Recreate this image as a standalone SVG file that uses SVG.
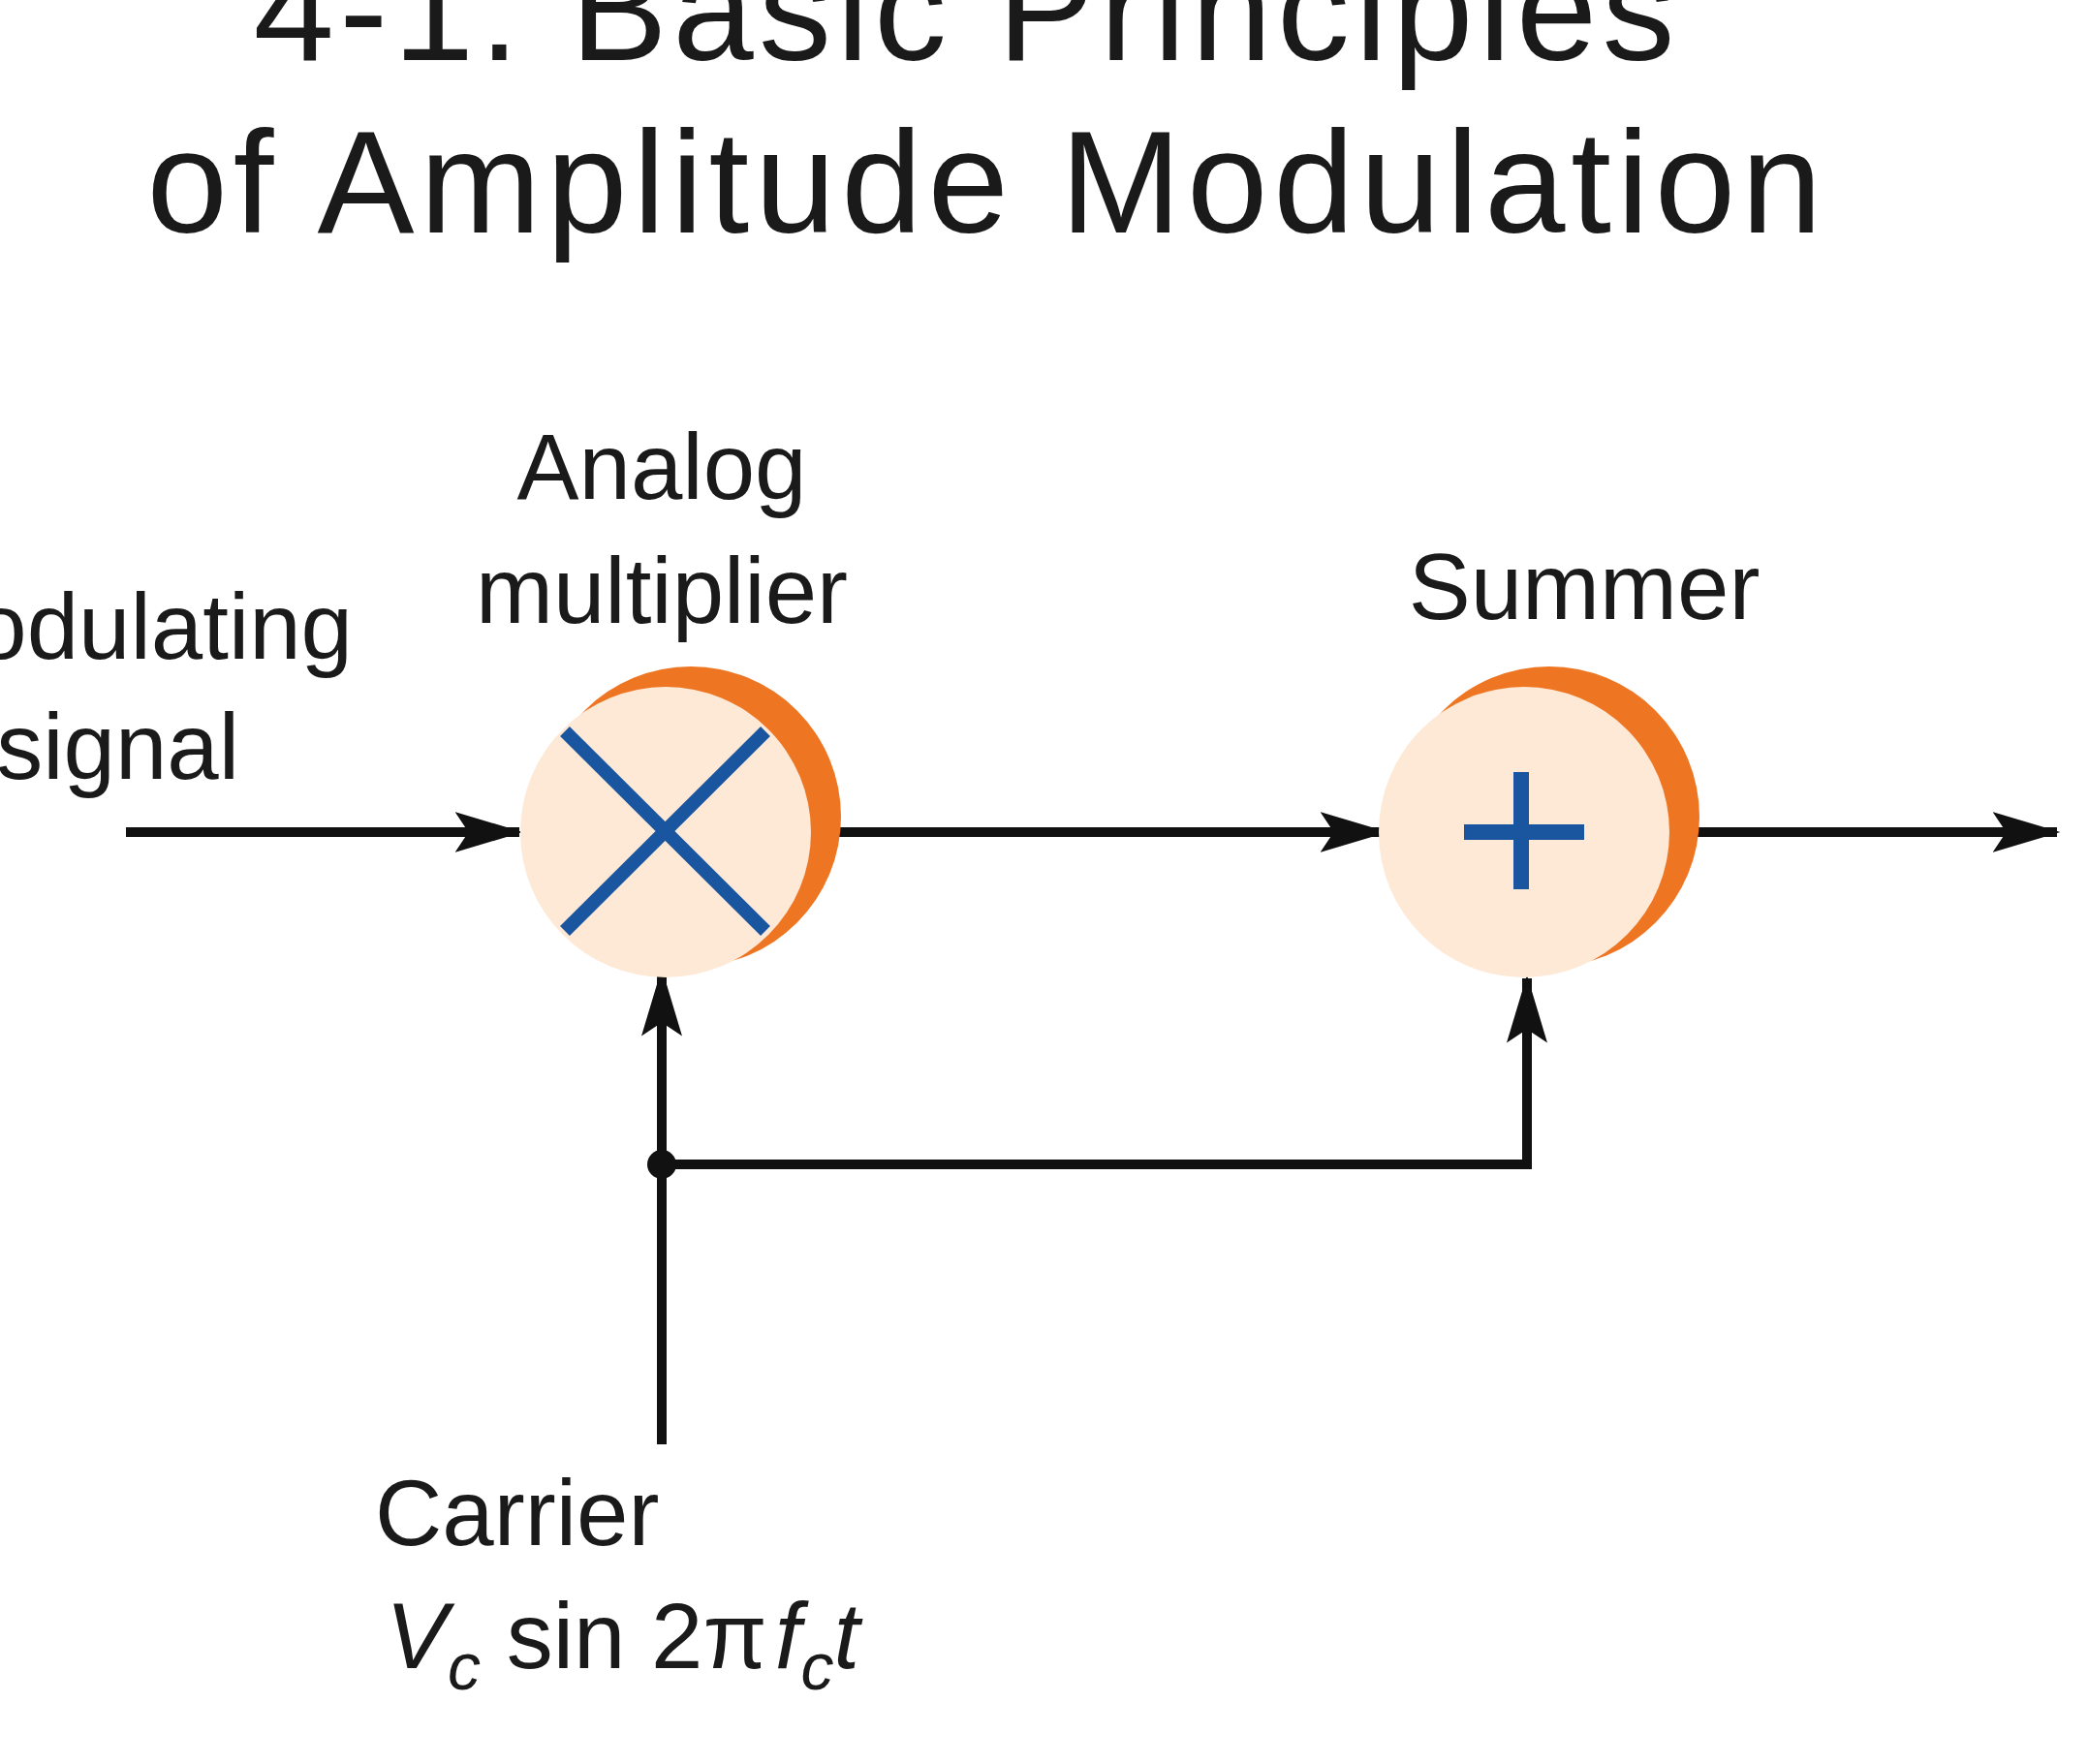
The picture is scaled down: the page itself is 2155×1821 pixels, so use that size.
<svg xmlns="http://www.w3.org/2000/svg" width="2155" height="1821" viewBox="0 0 2155 1821">
<style>
text{font-family:"Liberation Sans",Arial,sans-serif;fill:#1a1a1a}
.lbl{font-size:96px}
.ttl{font-size:150px}
.ln{stroke:#111;stroke-width:10;fill:none}
.beige{fill:#fde9d6}
.orng{fill:#ee7623}
.blue{stroke:#1a55a0;stroke-width:14;fill:none}
</style>
<defs>
<marker id="ah" viewBox="0 0 20 12" refX="19" refY="6" markerWidth="7" markerHeight="4.2" orient="auto" markerUnits="strokeWidth">
<path d="M0,0 L20,6 L0,12 L4,6 Z" fill="#111"/>
</marker>
</defs>
<rect width="2155" height="1821" fill="#fff"/>
<text class="ttl" x="995" y="62" text-anchor="middle" textLength="1467">4-1. Basic Principles</text>
<text class="ttl" x="1016" y="240" text-anchor="middle" textLength="1729">of Amplitude Modulation</text>
<g id="connectors">
<line class="ln" x1="130" y1="859" x2="536" y2="859" marker-end="url(#ah)"/>
<line class="ln" x1="852" y1="859" x2="1429" y2="859" marker-end="url(#ah)"/>
<line class="ln" x1="1742" y1="859" x2="2123" y2="859" marker-end="url(#ah)"/>
<line class="ln" x1="683" y1="1491" x2="683" y2="1003" marker-end="url(#ah)"/>
<polyline class="ln" points="683,1202 1576,1202 1576,1010" marker-end="url(#ah)"/>
<circle cx="683" cy="1202" r="15" fill="#111"/>
</g>
<g id="multiplier">
<circle class="orng" cx="713" cy="843" r="155"/>
<circle class="beige" cx="687" cy="859" r="150"/>
<line class="blue" x1="583" y1="755" x2="790" y2="961"/>
<line class="blue" x1="790" y1="755" x2="583" y2="961"/>
<text class="lbl" x="683" y="515" text-anchor="middle">Analog</text>
<text class="lbl" x="683" y="643" text-anchor="middle">multiplier</text>
</g>
<g id="summer">
<circle class="orng" cx="1599" cy="843" r="155"/>
<circle class="beige" cx="1573" cy="859" r="150"/>
<line x1="1570" y1="797" x2="1570" y2="918" stroke="#1a55a0" stroke-width="16"/>
<line x1="1511" y1="859" x2="1635" y2="859" stroke="#1a55a0" stroke-width="16"/>
<text class="lbl" x="1635" y="639" text-anchor="middle">Summer</text>
</g>
<g id="input">
<text class="lbl" x="364" y="680" text-anchor="end">Modulating</text>
<text class="lbl" x="247" y="804" text-anchor="end">signal</text>
</g>
<g id="carrier">
<text class="lbl" x="387" y="1595" font-size="100">Carrier</text>
<text class="lbl" x="398" y="1722" font-size="104"><tspan font-style="italic">V</tspan><tspan font-style="italic" font-size="68" dy="22">c</tspan><tspan dy="-22"> sin 2π</tspan><tspan font-style="italic" dx="8">f</tspan><tspan font-style="italic" font-size="68" dy="22">c</tspan><tspan font-style="italic" dy="-22">t</tspan></text>
</g>
</svg>
